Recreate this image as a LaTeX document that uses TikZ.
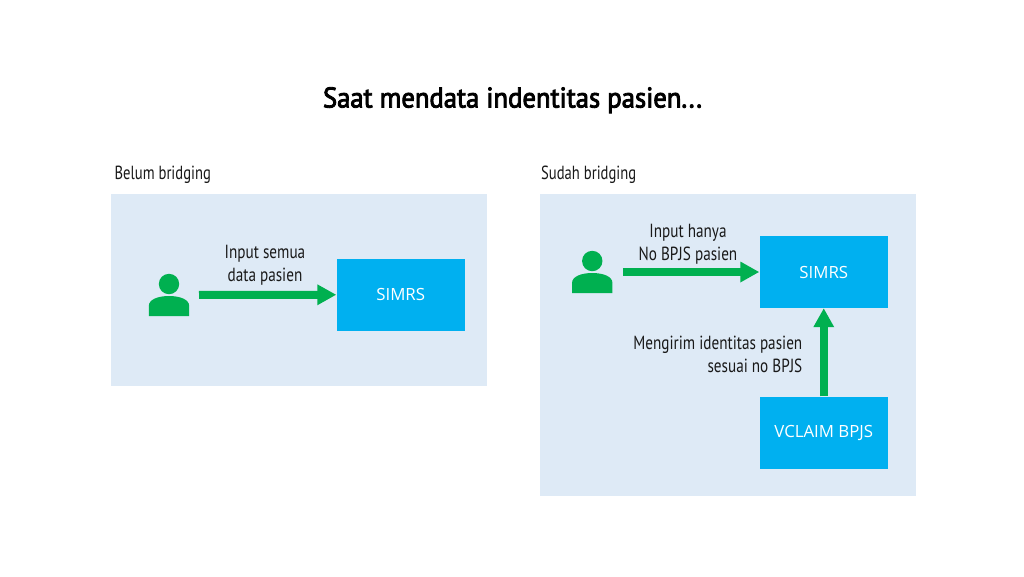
\documentclass[tikz,border=0pt]{standalone}
\usepackage{fontspec}
\setmainfont{PT Sans}
\newfontfamily\labelfont[FakeStretch=0.80]{PT Sans}
\newfontfamily\headfont[FakeStretch=0.77]{PT Sans}
\newfontfamily\titlefont[FakeStretch=0.935,FakeBold=3]{PT Sans}
\newfontfamily\boxfont{Open Sans}
\usetikzlibrary{arrows.meta}
\definecolor{panelblue}{HTML}{DEEAF6}
\definecolor{boxblue}{HTML}{00B0F0}
\definecolor{flowgreen}{HTML}{00B050}
\tikzset{
  x=1pt,y=-1pt,
  panel/.style={fill=panelblue,draw=none,inner sep=0pt,minimum width=376pt},
  sysbox/.style={fill=boxblue,draw=none,inner sep=0pt,minimum width=128.5pt,minimum height=72pt,text=white,font=\boxfont\fontsize{16.8}{20}\selectfont},
  personbox/.style={inner sep=0pt,outer sep=0pt,minimum width=40.5pt,minimum height=42pt},
  flow/.style={draw=flowgreen,line width=8pt,-{Triangle[length=19pt,width=19.5pt,fill=flowgreen]}},
  lbl/.style={inner sep=0pt,font=\labelfont\fontsize{19}{23}\selectfont,text=black!90},
  headlbl/.style={inner sep=0pt,font=\headfont\fontsize{19}{23}\selectfont,text=black!90},
  person/.pic={
    \fill[flowgreen] (0,-11) circle[radius=10.2];
    \fill[flowgreen] (-20.2,21) -- (-20.2,11) .. controls (-20.2,4) and (-10,1) .. (0,1) .. controls (10,1) and (20.2,4) .. (20.2,11) -- (20.2,21) -- cycle;
  }
}
\begin{document}
\begin{tikzpicture}
\useasboundingbox (0,0) rectangle (1024,576);
\fill[white] (0,0) rectangle (1024,576);
\node[inner sep=0pt,font=\titlefont\fontsize{28.5}{34}\selectfont,anchor=base] (title) at (512.5,107.5) {Saat mendata indentitas pasien...};

\node[headlbl,anchor=base west] (ltitle) at (114.5,179.5) {Belum bridging};
\node[headlbl,anchor=base west] (rtitle) at (541,179.5) {Sudah bridging};

\node[panel,minimum height=192.5pt] (lpanel) at (299,289.75) {};
\node[panel,minimum height=302.5pt] (rpanel) at (728,344.75) {};

\node[sysbox] (lsimrs) at (400.75,294.75) {SIMRS};
\node[sysbox] (rsimrs) at (823.75,272) {SIMRS};
\node[sysbox] (vclaim) at (823.75,432.5) {VCLAIM BPJS};

\node[personbox] (lperson) at (169,295) {};
\pic at (lperson.center) {person};
\node[personbox] (rperson) at (592.25,272) {};
\pic at (rperson.center) {person};

\draw[flow,shorten <=9.75pt] (lperson.east) -- (lsimrs.west);
\draw[flow,shorten <=10.25pt] (rperson.east) -- (rsimrs.west);
\draw[flow] (vclaim.north) -- (rsimrs.south);

\node[lbl,align=center] (llabel) at (265,265.5) {Input semua\\data pasien};
\node[lbl,align=center] (rlabel) at (688,244) {Input hanya\\No BPJS pasien};
\node[lbl,align=right,anchor=east] (mlabel) at (802.5,354) {Mengirim identitas pasien\\sesuai no BPJS};
\end{tikzpicture}
\end{document}
